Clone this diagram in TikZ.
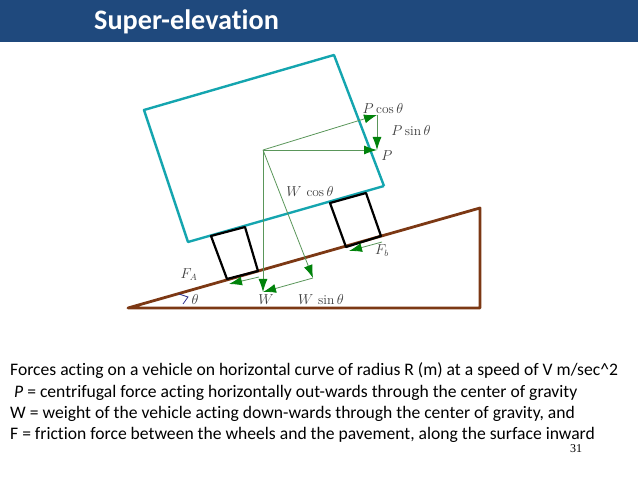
\documentclass[tikz,border=0pt]{standalone}
\usepackage{fontspec}
\newfontfamily\slidefont[Ligatures=NoCommon]{Carlito}
\newfontfamily\numfont{Liberation Serif}
\usetikzlibrary{arrows.meta}
\definecolor{bandblue}{RGB}{31,73,125}
\definecolor{bodyteal}{RGB}{20,165,175}
\definecolor{roadbrown}{RGB}{124,56,20}
\definecolor{forcegreen}{RGB}{90,150,90}
\definecolor{tipgreen}{RGB}{0,130,10}
\definecolor{anglenavy}{RGB}{50,50,140}
\definecolor{labelgrey}{RGB}{60,60,60}
\tikzset{
  vehicle/.style={bodyteal,line width=2.4pt,line join=round},
  wheel/.style={black,line width=2.2pt,line join=round},
  road/.style={roadbrown,line width=2.8pt,line join=round},
  force/.style={forcegreen,line width=0.8pt,-{Latex[length=13pt,width=9pt,color=tipgreen]}},
  flabel/.style={labelgrey,inner sep=0pt,font=\fontsize{13.5}{15}\selectfont},
  caption/.style={anchor=base west,inner sep=0pt,text=black,font=\slidefont\fontsize{17.6}{20}\selectfont}
}
\begin{document}
\begin{tikzpicture}[x=1pt,y=-1pt]
  \useasboundingbox (0,0) rectangle (638,478);

  % header
  \fill[bandblue] (0,0) rectangle (638,42);
  \node[anchor=base west,inner sep=0pt,text=white,font=\slidefont\bfseries\fontsize{28.2}{32}\selectfont] (title) at (94,30) {Super-elevation};

  \coordinate (tl) at (144,110);
  \coordinate (tr) at (334,55);
  \coordinate (br) at (384,186);
  \coordinate (bl) at (188,242);
  \coordinate (g1) at (128,308);
  \coordinate (g2) at (480,208);
  \coordinate (g3) at (480,308);
  \coordinate (o) at (263,150);
  \coordinate (p) at (377,150);
  \coordinate (pc) at (377,115);
  \coordinate (w) at (263,292);
  \coordinate (wc) at (313,278);
  \coordinate (fa1) at (259,277);
  \coordinate (fa2) at (229,284);
  \coordinate (fb1) at (382,242);
  \coordinate (fb2) at (349,251);

  \draw[road] (g1) -- (g2) -- (g3) -- cycle;
  \draw[vehicle] (br) -- (tr) -- (tl) -- (bl) -- (br);
  \draw[wheel] (211,236) -- (245,227) -- (258,271) -- (227,279) -- cycle;
  \draw[wheel] (330,203) -- (366,193) -- (381,236) -- (346,247) -- cycle;

  % forces
  \draw[force] (o) -- (p);
  \draw[force] (o) -- (pc);
  \draw[force] (pc) -- (p);
  \draw[force] (o) -- (w);
  \draw[force] (o) -- (wc);
  \draw[force] (wc) -- (w);
  \draw[force] (fa1) -- (fa2);
  \draw[force] (fb1) -- (fb2);
  \draw[anglenavy,line width=0.8pt] (179,294) -- (188,297) -- (183,304);

  % labels
  \node[flabel] (lpc) at (383,109) {$P\cos\theta$};
  \node[flabel] (lps) at (411,131) {$P\sin\theta$};
  \node[flabel] (lp) at (387,156) {$P$};
  \node[flabel] (lwc) at (310,192) {$W\,\cos\theta$};
  \node[flabel] (lw) at (266,300) {$W$};
  \node[flabel] (lws) at (321,300) {$W\,\sin\theta$};
  \node[flabel] (lfa) at (189,275) {$F_A$};
  \node[flabel] (lfb) at (382,251) {$F_b$};
  \node[flabel] (lth) at (195,300) {$\theta$};

  % caption
  \node[caption] (c1) at (10,376) {Forces acting on a vehicle on horizontal curve of radius R (m) at a speed of V m/sec\^{}2};
  \node[caption] (c2) at (14,398) {\textit{P} = centrifugal force acting horizontally out-wards through the center of gravity};
  \node[caption] (c3) at (10,419) {W = weight of the vehicle acting down-wards through the center of gravity, and};
  \node[caption] (c4) at (10,440) {F = friction force between the wheels and the pavement, along the surface inward};
  \node[anchor=base,inner sep=0pt,font=\numfont\fontsize{12}{14}\selectfont] (num) at (576,453) {31};
\end{tikzpicture}
\end{document}
